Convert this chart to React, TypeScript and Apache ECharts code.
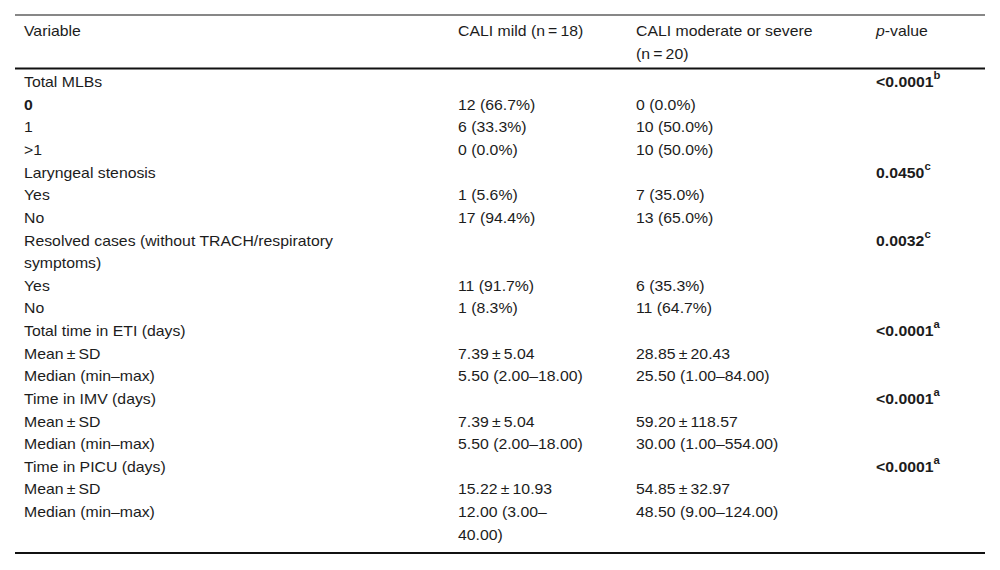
import { useEffect, useRef } from 'react';
import * as echarts from 'echarts';

// table content
const headers = [
  'Variable',
  'CALI mild (n\u2009=\u200918)',
  'CALI moderate or severe\n(n\u2009=\u200920)',
  '{i|p}-value',
];
const variables = [
  'Total MLBs',
  '0',
  '1',
  '>1',
  'Laryngeal stenosis',
  'Yes',
  'No',
  'Resolved cases (without TRACH/respiratory\nsymptoms)',
  'Yes',
  'No',
  'Total time in ETI (days)',
  'Mean\u2009±\u2009SD',
  'Median (min–max)',
  'Time in IMV (days)',
  'Mean\u2009±\u2009SD',
  'Median (min–max)',
  'Time in PICU (days)',
  'Mean\u2009±\u2009SD',
  'Median (min–max)',
];
const boldVariables = ['0'];
const mildValues = [
  '', '12 (66.7%)', '6 (33.3%)', '0 (0.0%)',
  '', '1 (5.6%)', '17 (94.4%)',
  '', '11 (91.7%)', '1 (8.3%)',
  '', '7.39\u2009±\u20095.04', '5.50 (2.00–18.00)',
  '', '7.39\u2009±\u20095.04', '5.50 (2.00–18.00)',
  '', '15.22\u2009±\u200910.93', '12.00 (3.00–\n40.00)',
];
const severeValues = [
  '', '0 (0.0%)', '10 (50.0%)', '10 (50.0%)',
  '', '7 (35.0%)', '13 (65.0%)',
  '', '6 (35.3%)', '11 (64.7%)',
  '', '28.85\u2009±\u200920.43', '25.50 (1.00–84.00)',
  '', '59.20\u2009±\u2009118.57', '30.00 (1.00–554.00)',
  '', '54.85\u2009±\u200932.97', '48.50 (9.00–124.00)',
];
const pValues = [
  '<0.0001', '', '', '',
  '0.0450', '', '',
  '0.0032', '', '',
  '<0.0001', '', '',
  '<0.0001', '', '',
  '<0.0001', '', '',
];
const pNotes = [
  'b', '', '', '',
  'c', '', '',
  'c', '', '',
  'a', '', '',
  'a', '', '',
  'a', '', '',
];

const FONT = '"Liberation Sans", Arial, Helvetica, sans-serif';
const TEXT_COLOR = '#1c1c1c';
const COL_X = [24, 458, 636, 876];
const LINE_LEFT = 15;
const LINE_RIGHT = 985;
const PITCH = 22.63;
const HEADER_Y = 31;
const BODY_Y = 82;
const STRETCH = 1.13;

const rich = {
  i: { fontStyle: 'italic', fontSize: 14, fontFamily: FONT, fill: TEXT_COLOR, lineHeight: PITCH },
  b: { fontWeight: 'bold', fontSize: 14, fontFamily: FONT, fill: TEXT_COLOR, lineHeight: PITCH },
  sup: { fontWeight: 'bold', fontSize: 10, fontFamily: FONT, fill: TEXT_COLOR, lineHeight: 14, verticalAlign: 'top' },
};

function cell(text: string, x: number, centerY: number, bold = false) {
  return {
    type: 'text',
    x,
    y: centerY - PITCH / 2,
    scaleX: STRETCH,
    silent: true,
    style: {
      text,
      fill: TEXT_COLOR,
      fontSize: 14,
      fontFamily: FONT,
      fontWeight: bold ? 'bold' : 'normal',
      lineHeight: PITCH,
      verticalAlign: 'top',
      align: 'left',
      rich,
    },
  };
}

export default function App() {
  const chartRef = useRef<HTMLDivElement>(null);

  useEffect(() => {
    if (!chartRef.current) return;
    const chart = echarts.init(chartRef.current, null, { renderer: 'svg' });

    const elements: any[] = [];
    headers.forEach((h, c) => elements.push(cell(h, COL_X[c], HEADER_Y)));

    let line = 0;
    variables.forEach((v, r) => {
      const y = BODY_Y + line * PITCH;
      elements.push(cell(v, COL_X[0], y, boldVariables.includes(v)));
      if (mildValues[r]) elements.push(cell(mildValues[r], COL_X[1], y));
      if (severeValues[r]) elements.push(cell(severeValues[r], COL_X[2], y));
      if (pValues[r]) {
        elements.push(cell(`{b|${pValues[r]}}{sup|${pNotes[r]}}`, COL_X[3], y));
      }
      const lines = Math.max(
        ...[v, mildValues[r], severeValues[r]].map((t) => t.split('\n').length)
      );
      line += lines;
    });

    const rules = [
      { y: 15, w: 1.2 },
      { y: 68.5, w: 2 },
      { y: 553, w: 1.8 },
    ];
    rules.forEach((l) =>
      elements.push({
        type: 'line',
        silent: true,
        shape: { x1: LINE_LEFT, y1: l.y, x2: LINE_RIGHT, y2: l.y },
        style: { stroke: '#111', lineWidth: l.w },
      })
    );

    chart.setOption({
      animation: false,
      backgroundColor: '#fff',
      graphic: { elements },
    });

    return () => {
      chart.dispose();
    };
  }, []);

  return (
    <div
      ref={chartRef}
      style={{ position: 'fixed', left: 0, top: 0, width: '1000px', height: '570px', background: '#fff' }}
    />
  );
}
